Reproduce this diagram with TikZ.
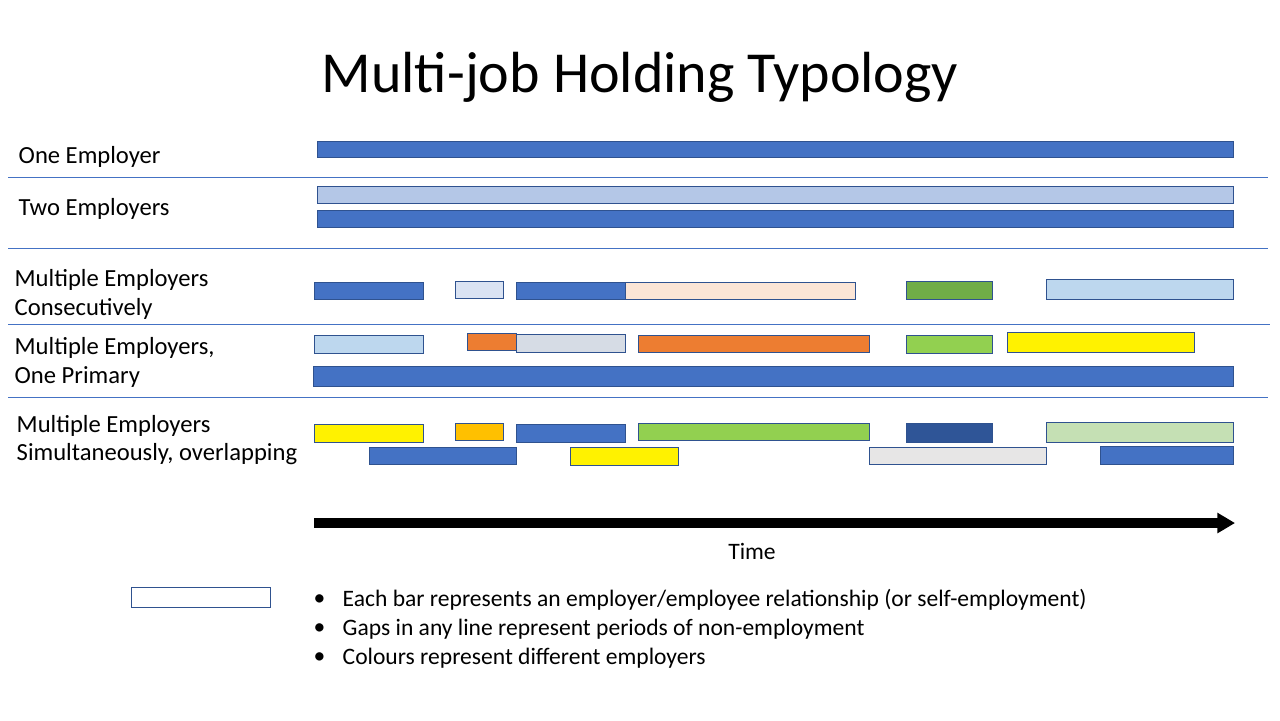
\documentclass[tikz,border=0pt]{standalone}
\usepackage{fontspec}
\usetikzlibrary{arrows.meta}
\setmainfont{Carlito}
\definecolor{dblue}{HTML}{4472C4}
\definecolor{edge}{HTML}{2F528F}
\definecolor{lblue}{HTML}{B4C7E7}
\definecolor{pblue}{HTML}{DAE3F3}
\definecolor{sky}{HTML}{BDD7EE}
\definecolor{peach}{HTML}{FBE5D6}
\definecolor{green1}{HTML}{70AD47}
\definecolor{lgreen}{HTML}{92D050}
\definecolor{orng}{HTML}{ED7D31}
\definecolor{greyb}{HTML}{D6DCE5}
\definecolor{gold}{HTML}{FFC000}
\definecolor{navy}{HTML}{2F5597}
\definecolor{pgreen}{HTML}{C5E0B4}
\definecolor{lgrey}{HTML}{E7E6E6}
\tikzset{bar/.style={draw=edge,line width=0.25pt},
 sep/.style={draw=dblue,line width=0.25pt},
 lbl/.style={anchor=west,font=\fontsize{7}{8.2}\selectfont,align=left,inner sep=0pt},
 bul/.style={anchor=west,font=\fontsize{6.7}{8}\selectfont,inner sep=0pt}}
\newcommand{\bb}[5]{\fill[bar,fill=#5] (#1,#2) rectangle (#3,#4);}
\begin{document}
\begin{tikzpicture}[x=0.01cm,y=-0.01cm]
\useasboundingbox (0,0) rectangle (1280,720);
\node[font=\fontsize{16.5}{19}\selectfont] (title) at (640,77) {Multi-job Holding Typology};
\node[lbl] (l1) at (18,157) {One Employer};
\node[lbl] (l2) at (18,209) {Two Employers};
\node[lbl] (l3) at (14,294) {Multiple Employers\\Consecutively};
\node[lbl] (l4) at (14,362) {Multiple Employers,\\One Primary};
\node[lbl] (l5) at (16,440) {Multiple Employers\\Simultaneously, overlapping};
\draw[sep] (8,177) -- (1268,177);
\draw[sep] (8,248) -- (1268,248);
\draw[sep] (8,324) -- (1270,324);
\draw[sep] (8,397) -- (1268,397);
\bb{317}{141}{1233}{157}{dblue}
\bb{317}{186}{1233}{203}{lblue}
\bb{317}{210}{1233}{227}{dblue}
\bb{314}{282}{423}{299}{dblue}
\bb{455}{281}{503}{298}{pblue}
\bb{516}{282}{625}{299}{dblue}
\bb{625}{282}{855}{299}{peach}
\bb{906}{281}{992}{299}{green1}
\bb{1046}{279}{1233}{299}{sky}
\bb{314}{335}{423}{353}{sky}
\bb{467}{333}{516}{350}{orng}
\bb{516}{334}{625}{352}{greyb}
\bb{638}{335}{869}{352}{orng}
\bb{906}{335}{992}{353}{lgreen}
\bb{1007}{332}{1194}{352}{yellow}
\bb{313}{366}{1233}{386}{dblue}
\bb{314}{424}{423}{442}{yellow}
\bb{455}{423}{503}{440}{gold}
\bb{516}{424}{625}{442}{dblue}
\bb{638}{423}{869}{440}{lgreen}
\bb{906}{423}{992}{442}{navy}
\bb{1046}{422}{1233}{442}{pgreen}
\bb{369}{447}{516}{464}{dblue}
\bb{570}{447}{678}{465}{yellow}
\bb{869}{447}{1046}{464}{lgrey}
\bb{1100}{446}{1233}{464}{dblue}
\coordinate (a0) at (314,523);
\coordinate (a1) at (1235,523);
\draw[line width=2.6pt,-{Triangle[length=5pt,width=5.5pt]}] (a0) -- (a1);
\node[font=\fontsize{6.7}{8}\selectfont] (time) at (752,551) {Time};
\draw[bar,fill=white] (131,587) rectangle (270,607);
\foreach \y/\t in {600/{Each bar represents an employer/employee relationship (or self-employment)},629/{Gaps in any line represent periods of non-employment},658/{Colours represent different employers}}{
 \node[bul] at (313,\y) {•};
 \node[bul] at (342,\y) {\t};
}
\end{tikzpicture}
\end{document}
